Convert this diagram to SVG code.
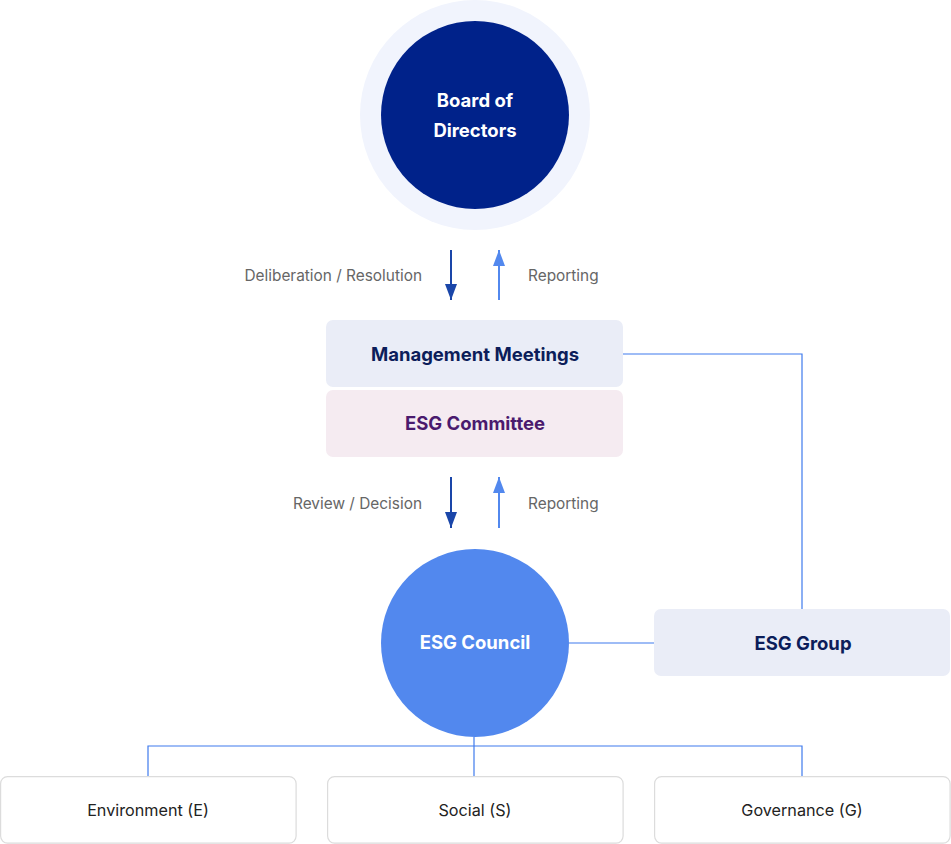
<svg xmlns="http://www.w3.org/2000/svg" width="951" height="844" viewBox="0 0 951 844">
<defs>
<style>
.t{font-family:Inter,"Noto Sans",sans-serif;}
.b{font-weight:700;font-size:18.5px;text-anchor:middle;}
.lbl{font-size:15.4px;fill:#666;}
.sub{font-size:16.2px;fill:#222;text-anchor:middle;}
.ln{stroke:#3f7bed;stroke-width:1.2;fill:none;}
.box{fill:#fff;stroke:#dcdcdc;stroke-width:1.2;}
</style>
<marker id="ad" viewBox="0 0 16 12" markerWidth="16" markerHeight="12" refX="16" refY="6" orient="auto" markerUnits="userSpaceOnUse"><path d="M0,0L16,6L0,12Z" fill="#1a46a9"/></marker>
<marker id="au" viewBox="0 0 16 12" markerWidth="16" markerHeight="12" refX="16" refY="6" orient="auto" markerUnits="userSpaceOnUse"><path d="M0,0L16,6L0,12Z" fill="#5288ee"/></marker>
</defs>
<rect width="951" height="844" fill="#fff"/>
<g id="connectors">
<line x1="451" y1="250" x2="451" y2="300" stroke="#1a46a9" stroke-width="2" marker-end="url(#ad)"/>
<line x1="499" y1="300" x2="499" y2="250" stroke="#5288ee" stroke-width="2" marker-end="url(#au)"/>
<line x1="451" y1="477" x2="451" y2="528" stroke="#1a46a9" stroke-width="2" marker-end="url(#ad)"/>
<line x1="499" y1="528" x2="499" y2="477" stroke="#5288ee" stroke-width="2" marker-end="url(#au)"/>
<polyline class="ln" points="623,354 802,354 802,609"/>
<line class="ln" x1="569" y1="643" x2="654" y2="643"/>
<polyline class="ln" points="148,776 148,746 802,746 802,776"/>
<line class="ln" x1="474" y1="737" x2="474" y2="776"/>
<text class="t lbl" x="422" y="281" text-anchor="end">Deliberation / Resolution</text>
<text class="t lbl" x="528" y="281">Reporting</text>
<text class="t lbl" x="422" y="509" text-anchor="end">Review / Decision</text>
<text class="t lbl" x="528" y="509">Reporting</text>
</g>
<g id="board">
<circle cx="475" cy="115" r="115" fill="#f1f4fd"/>
<circle cx="475" cy="115" r="94" fill="#00228a"/>
<text class="t b" x="475" y="107" fill="#fff">Board of</text>
<text class="t b" x="475" y="137" fill="#fff">Directors</text>
</g>
<g id="management">
<rect x="326" y="320" width="297" height="67" rx="7" fill="#eaedf7"/>
<text class="t b" x="475" y="361" fill="#0c1d5a">Management Meetings</text>
</g>
<g id="committee">
<rect x="326" y="390" width="297" height="67" rx="7" fill="#f5ebf1"/>
<text class="t b" x="475" y="430" fill="#4a1a6e">ESG Committee</text>
</g>
<g id="council">
<circle cx="475" cy="643" r="94" fill="#5288ee"/>
<text class="t b" x="475" y="649" fill="#fff">ESG Council</text>
</g>
<g id="group">
<rect x="654" y="609" width="296" height="67" rx="7" fill="#eaedf7"/>
<text class="t b" x="803" y="650" fill="#0c1d5a">ESG Group</text>
</g>
<g id="env">
<rect class="box" x="0.6" y="776.6" width="295.5" height="66.5" rx="7"/>
<text class="t sub" x="148" y="816">Environment (E)</text>
</g>
<g id="soc">
<rect class="box" x="327.6" y="776.6" width="295.5" height="66.5" rx="7"/>
<text class="t sub" x="475" y="816">Social (S)</text>
</g>
<g id="gov">
<rect class="box" x="654.6" y="776.6" width="295.5" height="66.5" rx="7"/>
<text class="t sub" x="802" y="816">Governance (G)</text>
</g>
</svg>
